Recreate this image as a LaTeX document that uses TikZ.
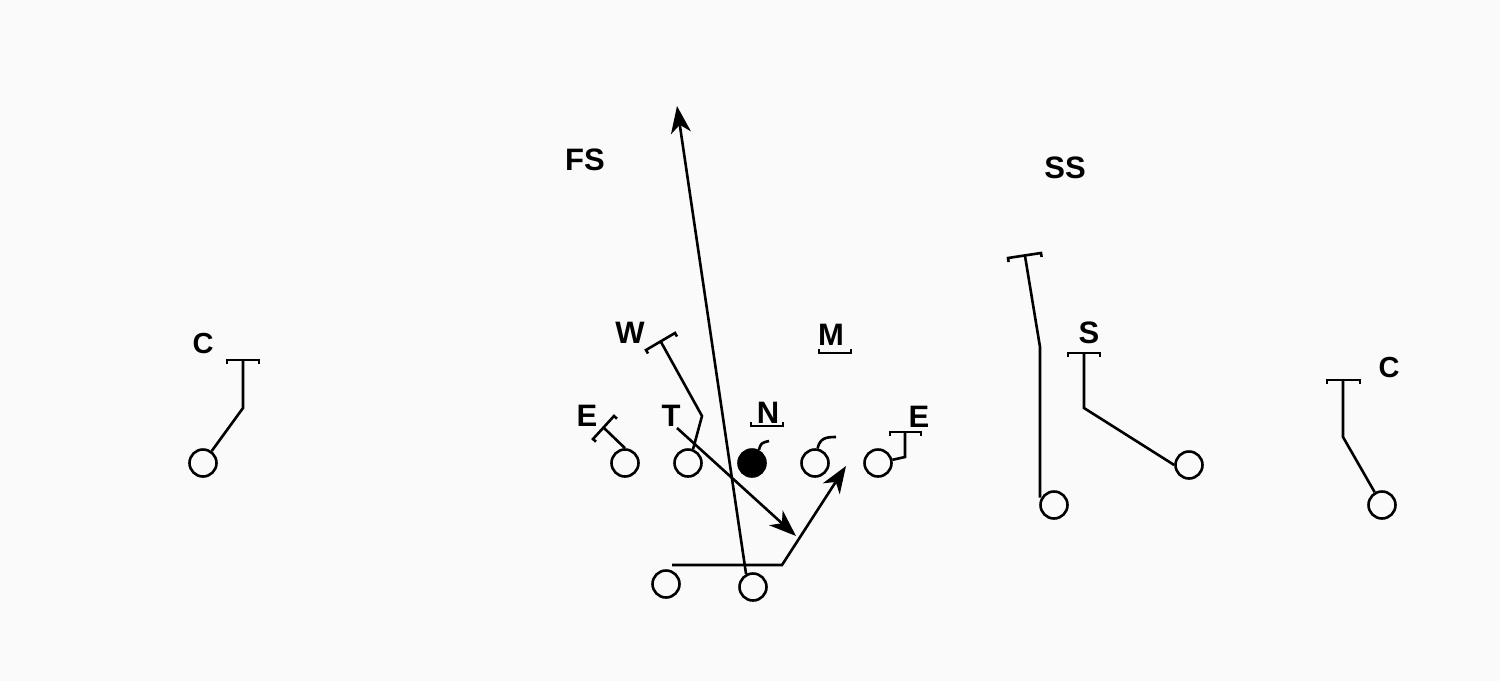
\documentclass[tikz,border=0pt]{standalone}
\usepackage{fontspec}
\setmainfont{Liberation Sans}
\usetikzlibrary{arrows.meta}
\definecolor{bg}{HTML}{FAFAFA}
\begin{document}
\begin{tikzpicture}[x=1pt,y=-1pt,
  pl/.style={circle,draw,line width=2.6pt,minimum size=27pt,inner sep=0pt},
  ball/.style={pl,fill=black},
  lbl/.style={font=\bfseries\fontsize{31}{31}\selectfont,inner sep=0pt},
  lblc/.style={font=\bfseries\fontsize{29}{29}\selectfont,inner sep=0pt},
  rt/.style={line width=2.6pt,line join=miter},
  arr/.style={rt,-{Stealth[length=27pt,width=20pt,inset=8pt]}}]
\fill[bg] (0,0) rectangle (1500,681);
\useasboundingbox (0,0) rectangle (1500,681);

% labels
\node[lbl] (lFS) at (585,160) {FS};
\node[lbl] (lSS) at (1065,168) {SS};
\node[lblc] (lC1) at (203,344) {C};
\node[lblc] (lC2) at (1389,368) {C};
\node[lbl] (lW) at (630,333) {W};
\node[lbl] (lT) at (671,416) {T};
\node[lbl] (lE1) at (587,416) {E};
\node[lbl] (lE2) at (919,417) {E};
\node[lbl] (lM) at (831,335) {M};
\node[lbl] (lN) at (768,413) {N};
\node[lbl] (lS) at (1089,333) {S};

% offensive players
\node[pl] (lc) at (203,463) {};
\node[pl] (le) at (625,463) {};
\node[pl] (lg) at (688,463) {};
\node[ball] (ctr) at (752,463) {};
\node[pl] (rg) at (815,463) {};
\node[pl] (re) at (878,463) {};
\node[pl] (b1) at (666,584) {};
\node[pl] (b2) at (753,587) {};
\node[pl] (ssc) at (1054,505) {};
\node[pl] (sc) at (1189,465) {};
\node[pl] (rc) at (1382,505) {};

% left C
\coordinate (lcb) at (243,408);
\coordinate (lct) at (243,360);
\draw[rt] (lc) -- (lcb) -- (lct);
\draw[rt] (227,364) -- (227,360) -- (259,360) -- (259,364);

% left E
\coordinate (leb) at (604,428);
\draw[rt] (le.north) -- (leb);
\draw[rt] (596,441.7) -- (593,439) -- (614,416) -- (617,418.7);

% W
\coordinate (wb) at (661,342);
\coordinate (wk) at (702,416);
\draw[rt] (wb) -- (wk) -- (lg.70);
\draw[rt] (648,353.5) -- (646,350) -- (675,333) -- (677,336.5);

% T slant
\coordinate (tst) at (677,428);
\coordinate (ttip) at (796,536);
\draw[arr] (tst) -- (ttip);

% FS route
\coordinate (fstip) at (677,106);
\draw[arr] (b2.118) -- (fstip);

% back route
\coordinate (rst) at (672,565);
\coordinate (rk) at (782,565);
\coordinate (rtip) at (846,466);
\draw[arr] (rst) -- (rk) -- (rtip);

% hooks
\coordinate (h1) at (769,441);
\draw[rt] (ctr.62) .. controls (761,443) .. (h1);
\coordinate (h2) at (836,437);
\draw[rt] (rg.80) .. controls (820,438) and (826,437) .. (h2);

% right E
\coordinate (rek) at (905,457);
\coordinate (ret) at (905,432);
\draw[rt] (re) -- (rek) -- (ret);
\draw[rt] (890,436) -- (890,432) -- (921,432) -- (921,436);

% M and N underlines
\draw[rt] (819,349) -- (819,353) -- (851,353) -- (851,349);
\draw[rt] (751,422) -- (751,426) -- (783,426) -- (783,422);

% SS
\coordinate (sst) at (1025,256);
\coordinate (ssm) at (1040,347);
\draw[rt] (sst) -- (ssm) -- (ssm |- ssc.150);
\draw[rt] (1008.6,262) -- (1008,258) -- (1041,253) -- (1041.6,257);

% S
\coordinate (stp) at (1084,353);
\coordinate (sk) at (1084,408);
\draw[rt] (stp) -- (sk) -- (sc.west);
\draw[rt] (1068,357) -- (1068,353) -- (1100,353) -- (1100,357);

% right C
\coordinate (rct) at (1343,380);
\coordinate (rcb) at (1343,437);
\draw[rt] (rct) -- (rcb) -- (rc);
\draw[rt] (1327,384) -- (1327,380) -- (1360,380) -- (1360,384);
\end{tikzpicture}
\end{document}
